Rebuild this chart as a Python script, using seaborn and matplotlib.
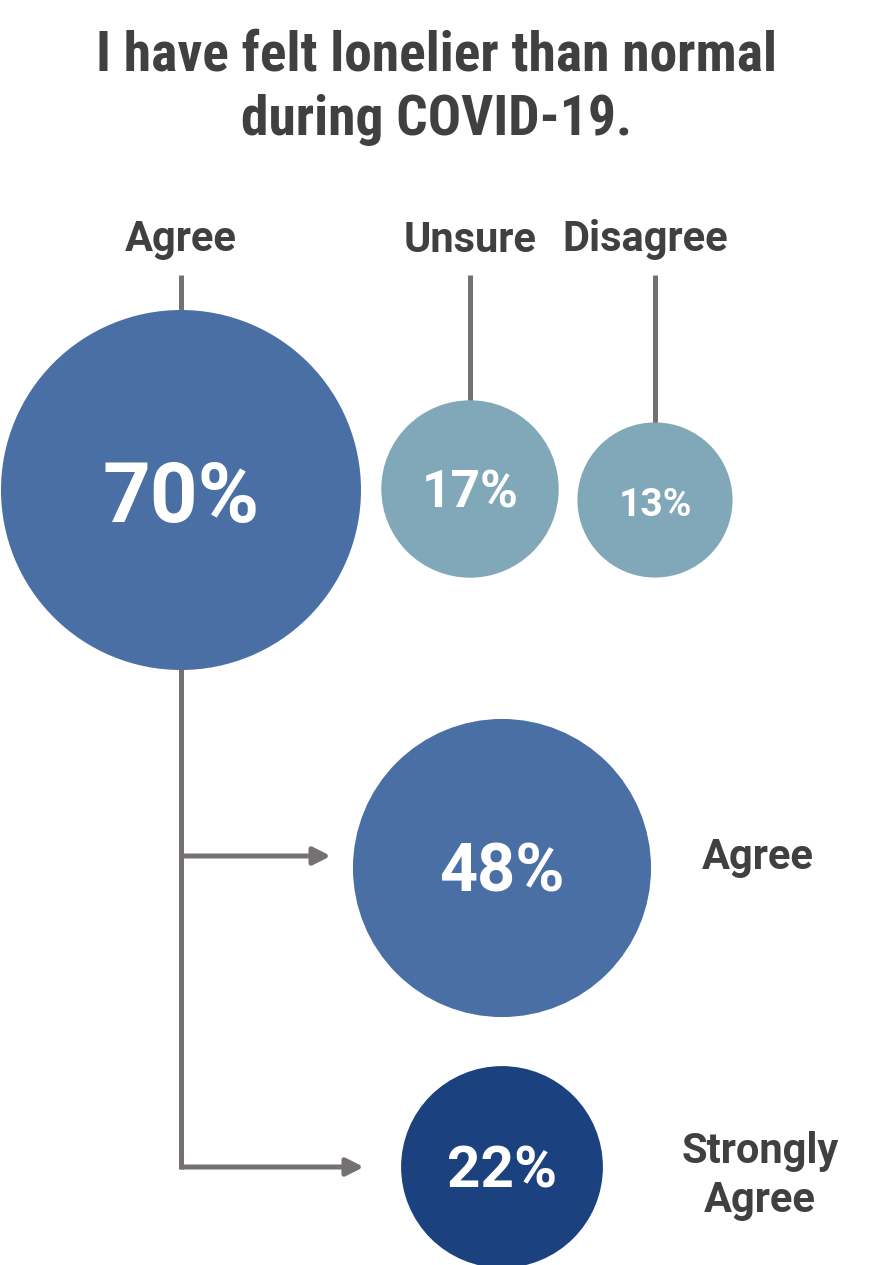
import matplotlib.pyplot as plt
import pandas as pd
import seaborn as sns

# survey data
responses = ["Agree", "Unsure", "Disagree", "Agree", "Strongly\nAgree"]
shares = [70, 17, 13, 48, 22]
groups = ["agree", "neutral", "neutral", "agree", "strong"]

# layout (pixel space of an 873 x 1265 canvas)
pos_x = [181, 470, 655, 502, 502]
pos_y = [490, 489, 500, 868, 1167]
pct_base = [522, 508, 516, 892, 1187]
pct_size = [60, 37, 28, 48, 42]

COLORS = {"agree": "#4a6fa5", "neutral": "#81a8b8", "strong": "#1b417f"}
LINE = "#757171"
TEXT = "#404040"
W, H, DPI = 873, 1265, 100

df = pd.DataFrame({"x": pos_x, "y": pos_y, "share": shares, "group": groups})

sns.set_theme(style="white")
plt.rcParams["font.family"] = ["Roboto", "DejaVu Sans"]

fig = plt.figure(figsize=(W / DPI, H / DPI), dpi=DPI)
ax = fig.add_axes([0, 0, 1, 1])
ax.set_xlim(0, W)
ax.set_ylim(H, 0)
ax.axis("off")

# connectors drawn first so circles sit on top
lw = 3.6
ax.plot([181, 181], [275, 320], color=LINE, lw=lw, solid_capstyle="butt")
ax.plot([470, 470], [275, 410], color=LINE, lw=lw, solid_capstyle="butt")
ax.plot([655, 655], [275, 430], color=LINE, lw=lw, solid_capstyle="butt")
ax.plot([181, 181], [660, 1169], color=LINE, lw=lw, solid_capstyle="butt")
for y_arrow, x_tip in [(856, 331), (1167, 364)]:
    ax.annotate("", xy=(x_tip, y_arrow), xytext=(181, y_arrow),
                arrowprops=dict(arrowstyle="-|>", color=LINE, lw=lw,
                                mutation_scale=26, shrinkA=0, shrinkB=0,
                                capstyle="butt"))

# bubble area proportional to share: 70% -> 360 px diameter
d70 = 360 * 72 / DPI
sns.scatterplot(data=df, x="x", y="y", size="share", hue="group",
                palette=COLORS, sizes=(0, d70 ** 2), size_norm=(0, 70),
                linewidth=0, legend=False, ax=ax, zorder=3)
ax.set_xlim(0, W)
ax.set_ylim(H, 0)

for x, yb, v, fs in zip(pos_x, pct_base, shares, pct_size):
    ax.text(x, yb, f"{v}%", color="white", fontsize=fs, fontweight="bold",
            ha="center", va="baseline", zorder=4)

# category labels
lab_kw = dict(color=TEXT, fontsize=30, fontweight="semibold",
              ha="center", va="center")
for x, lab in zip([181, 470, 645], responses[:3]):
    ax.text(x, 240, lab, **lab_kw)
ax.text(758, 857, responses[3], **lab_kw)
ax.text(760, 1176, responses[4], linespacing=1.25, **lab_kw)

fig.text(0.5, 1 - 88 / H, "I have felt lonelier than normal\nduring COVID-19.",
         ha="center", va="center", color=TEXT, fontsize=40, fontweight="bold",
         family=["Roboto Condensed", "Liberation Sans Narrow", "Roboto"],
         linespacing=1.3)

fig.savefig("out.png", dpi=DPI, facecolor="white")
